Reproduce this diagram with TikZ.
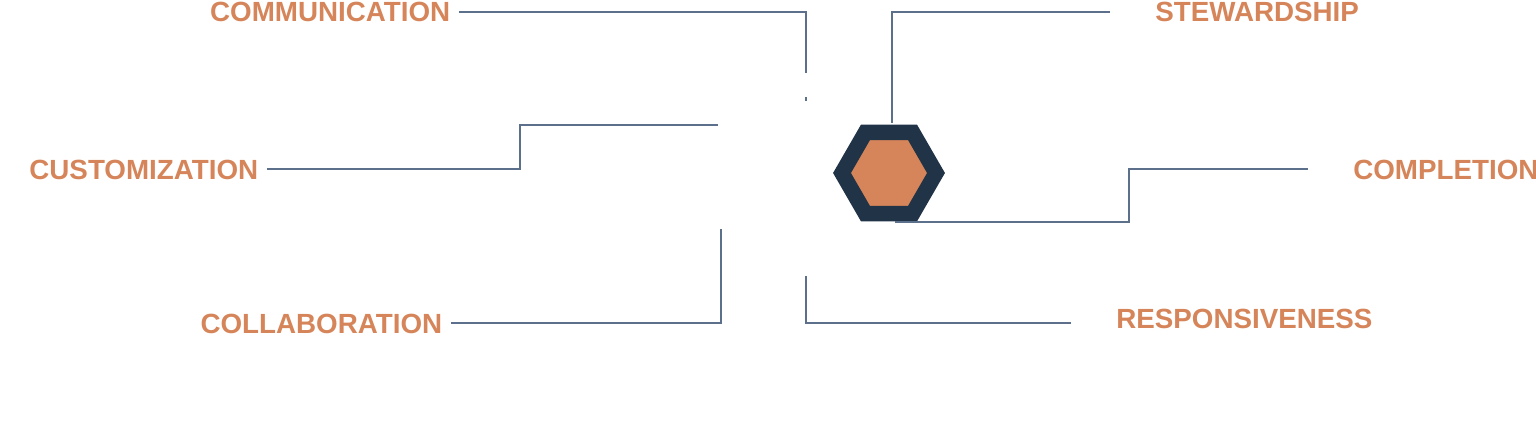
\documentclass[tikz,border=0pt]{standalone}
\usepackage{fontspec}
\setmainfont{Liberation Sans}
\usepackage{tikz}
\usetikzlibrary{positioning}
\usetikzlibrary{shapes.geometric}
\definecolor{lorange}{rgb}{0.835, 0.52, 0.35}
\definecolor{lnavy}{rgb}{0.13, 0.2, 0.28}
\definecolor{lslate}{rgb}{0.36, 0.44, 0.55}
\tikzset{lbl/.style = {text=lorange, inner ysep=0pt, inner xsep=0.17cm,
                       font=\fontsize{15.8pt}{18pt}\selectfont\bfseries},
         rlbl/.style = {lbl, inner xsep=0.9cm},
         link/.style = {draw=lslate, line width=0.04cm},
         hexa/.style = {regular polygon, regular polygon sides=6, minimum size=1.88cm,
                        inner sep=0pt, fill=lorange, draw=lnavy, line width=0.31cm}}

\begin{document}
\begin{tikzpicture}[x=0.02cm, y=-0.02cm]
    \useasboundingbox (0, 0) rectangle (1536, 425);

    \node [hexa] (hub) at (889, 173) {};

    \node [lbl, anchor=east] (comm) at (459, 12) {COMMUNICATION};
    \node [lbl, anchor=east] (cust) at (267, 170) {CUSTOMIZATION};
    \node [lbl, anchor=east] (coll) at (451, 324) {COLLABORATION};
    \node [rlbl, anchor=west] (stew) at (1110, 12) {STEWARDSHIP};
    \node [rlbl, anchor=west] (compl) at (1308, 170) {COMPLETION};
    \node [rlbl, anchor=west] (resp) at (1071, 319) {RESPONSIVENESS};

    \coordinate (commEnd) at (806, 73);
    \coordinate (stewEnd) at (892, 123);
    \coordinate (custStep) at (520, 125);
    \coordinate (custEnd) at (718, 125);
    \coordinate (complStep) at (1129, 222);
    \coordinate (complEnd) at (895, 222);
    \coordinate (collEnd) at (721, 229);
    \coordinate (respEnd) at (806, 276);

    \draw [link] (comm.east) -| (commEnd);
    \draw [link] (806, 97) -- (806, 101);
    \draw [link] (stew.west) -| (stewEnd);
    \draw [link] ([yshift=0.02cm]cust.east) -| (custStep) -- (custEnd);
    \draw [link] ([yshift=0.02cm]compl.west) -| (complStep) -- (complEnd);
    \draw [link] ([yshift=0.02cm]coll.east) -| (collEnd);
    \draw [link] ([yshift=-0.08cm]resp.west) -| (respEnd);

  \end{tikzpicture}
\end{document}
